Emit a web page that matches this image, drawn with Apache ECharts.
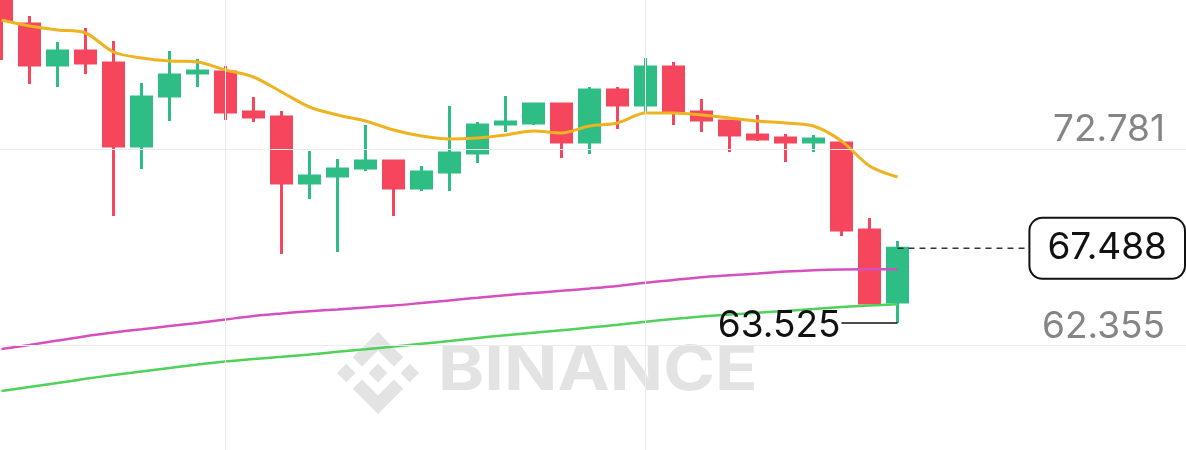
<!DOCTYPE html>
<html><head><meta charset="utf-8">
<script src="https://cdn.jsdelivr.net/npm/echarts@6/dist/echarts.min.js"></script>
<style>html,body{margin:0;padding:0;background:#fff}#c{width:1186px;height:450px}</style>
</head><body><div id="c"></div>
<script>
// 43 category slots (33 candles + empty right margin)
const categories = ['1','2','3','4','5','6','7','8','9','10','11','12','13','14','15','16','17','18','19','20',
  '21','22','23','24','25','26','27','28','29','30','31','32','33','34','35','36','37','38','39','40','41','42','43'];

const opens  = [80.843,79.409,77.230,77.974,77.336,72.926,75.583,76.805,76.858,74.733,74.467,70.960,71.332,71.757,72.129,70.695,71.545,72.554,74.095,74.148,75.158,73.139,75.902,75.105,77.124,74.733,74.255,73.511,73.351,73.139,73.086,68.463,64.637];
const closes = [79.621,77.230,77.974,77.336,72.926,75.530,76.699,76.911,74.733,74.467,70.960,71.332,71.704,72.129,70.695,71.545,72.554,74.042,74.202,75.158,73.139,75.902,75.105,77.124,74.786,74.308,73.511,73.298,73.139,73.298,68.463,64.584,67.488];
const lows   = [77.496,76.221,76.061,76.752,69.207,71.704,74.255,76.061,74.308,74.202,67.188,70.110,67.294,71.598,69.207,70.535,70.535,72.023,73.670,74.042,72.289,72.501,73.830,74.680,74.042,73.670,72.607,73.192,72.076,72.607,68.144,64.531,63.525];
const highs  = [81.322,79.834,78.452,79.196,78.505,76.274,77.974,77.549,77.177,75.530,74.786,72.661,72.236,74.042,72.182,71.864,75.052,74.202,75.583,75.211,75.211,76.061,76.061,77.602,77.390,75.424,74.255,74.573,73.564,73.511,73.245,69.101,67.878];

const maFast = [79.621,79.302,79.090,78.931,77.921,77.602,77.443,77.390,76.965,76.593,75.796,74.999,74.573,74.255,73.776,73.458,73.298,73.351,73.511,73.723,73.617,73.989,74.148,74.680,74.680,74.573,74.414,74.255,74.148,73.989,73.192,71.864,71.279];
const maMid  = [62.140,62.352,62.586,62.821,63.017,63.187,63.357,63.521,63.707,63.893,64.026,64.143,64.244,64.350,64.451,64.584,64.722,64.860,64.999,65.115,65.232,65.354,65.487,65.663,65.806,65.955,66.056,66.152,66.252,66.322,66.364,66.380,66.375];
const maSlow = [59.908,60.121,60.333,60.556,60.758,60.944,61.130,61.311,61.476,61.609,61.725,61.848,61.991,62.124,62.267,62.416,62.565,62.724,62.873,63.006,63.139,63.277,63.426,63.590,63.734,63.861,63.968,64.069,64.164,64.265,64.371,64.456,64.515];

const gridPrices = [72.781, 62.355];
const verticalGridAt = ['9', '24'];

const candles = opens.map((o, i) => [o, closes[i], lows[i], highs[i]]);
const lastIdx = closes.length - 1;
const lastClose = closes[lastIdx];
const lowVal = Math.min(...lows);
const lowIdx = lows.indexOf(lowVal);

const dashData = categories.map((c, i) => (i >= lastIdx && i <= lastIdx + 5) ? lastClose : null);

const logoPolys = [
  [[38.73,53.2],[63.3,28.63],[87.89,53.22],[102.19,38.92],[63.3,0],[24.42,38.9]],
  [[0,63.31],[14.3,49.01],[28.6,63.31],[14.3,77.61]],
  [[38.73,73.41],[63.3,97.99],[87.89,73.4],[102.2,87.69],[63.3,126.61],[24.41,87.71]],
  [[98,63.31],[112.3,49.01],[126.6,63.31],[112.3,77.61]],
  [[77.83,63.3],[63.3,48.77],[48.78,63.29],[63.3,77.83]]
];

const chart = echarts.init(document.getElementById('c'));
chart.setOption({
  animation: false,
  backgroundColor: '#ffffff',
  grid: { left: -12.5, right: -5.5, top: 0, bottom: 0, containLabel: false, outerBoundsMode: 'none' },
  xAxis: {
    type: 'category', data: categories, boundaryGap: true,
    axisLine: { show: false }, axisTick: { show: false }, axisLabel: { show: false }, splitLine: { show: false }
  },
  yAxis: {
    type: 'value', min: 56.773, max: 80.684, position: 'right', z: 10,
    axisLine: { show: false }, axisTick: { show: false }, splitLine: { show: false },
    axisLabel: {
      inside: true, margin: 7.5,
      customValues: [gridPrices[0], lastClose, gridPrices[1]],
      formatter: v => Math.abs(v - lastClose) < 1e-6 ? '{box|' + v.toFixed(3) + '}' : '{g|' + v.toFixed(3) + '}',
      rich: {
        g: { fontFamily: 'Inter', fontSize: 37, color: '#858585', lineHeight: 38, padding: [0, 19, 37, 0] },
        box: { fontFamily: 'Inter', fontSize: 37, color: '#111111', lineHeight: 38, backgroundColor: '#ffffff',
               borderColor: '#111111', borderWidth: 2, borderRadius: 12, padding: [11, 17, 11, 17] }
      }
    }
  },
  graphic: [
    { type: 'group', x: 337, y: 332, scaleX: 0.648, scaleY: 0.648, z: 0, silent: true,
      children: logoPolys.map(p => ({ type: 'polygon', shape: { points: p }, style: { fill: '#e3e3e3' } })) },
    { type: 'text', x: 438, y: 371, z: 0, silent: true, scaleX: 1.13,
      style: { text: 'BINANCE', fontFamily: 'Inter', fontWeight: 'bold', fontSize: 62, fill: '#e3e3e3',
               verticalAlign: 'middle', align: 'left' } }
  ],
  series: [
    { type: 'line', data: [], z: 1, silent: true,
      markLine: { silent: true, symbol: 'none', label: { show: false },
        lineStyle: { color: '#ececec', width: 1, type: 'solid' },
        data: gridPrices.map(p => ({ yAxis: p })).concat(verticalGridAt.map(c => ({ xAxis: c }))) } },
    { type: 'line', data: dashData, symbol: 'none', silent: true,
      lineStyle: { color: '#333333', width: 1.5, type: [6, 5] } },
    { type: 'candlestick', data: candles, barWidth: 21,
      itemStyle: { color: '#2EBD85', color0: '#F6465D', borderColor: '#2EBD85', borderColor0: '#F6465D', borderWidth: 3 } },
    { type: 'line', data: maFast, symbol: 'none', smooth: 0.3, lineStyle: { color: '#EDB320', width: 3 } },
    { type: 'line', data: maMid, symbol: 'none', smooth: 0.3, lineStyle: { color: '#D64FBF', width: 2.5 } },
    { type: 'line', data: maSlow, symbol: 'none', smooth: 0.3, lineStyle: { color: '#4FD15A', width: 2.5 } },
    { type: 'line', data: [], silent: true,
      markLine: { silent: true, symbol: 'none',
        lineStyle: { color: '#111111', width: 1.5, type: 'solid' },
        label: { show: true, position: 'start', formatter: lowVal.toFixed(3), fontFamily: 'Inter', fontSize: 37,
                 color: '#111111', distance: 1, offset: [0, 3] },
        data: [[{ coord: [categories[lowIdx - 2], lowVal] }, { coord: [categories[lowIdx], lowVal] }]] } }
  ]
});
</script></body></html>
